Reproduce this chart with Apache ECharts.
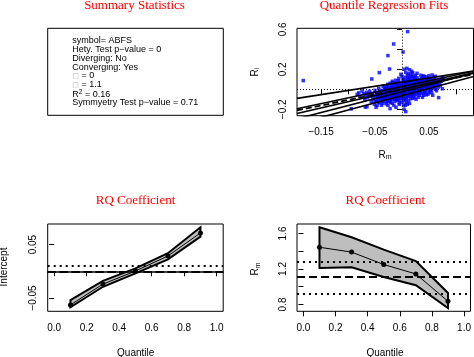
<!DOCTYPE html>
<html><head><meta charset="utf-8">
<script src="https://cdn.jsdelivr.net/npm/echarts@6/dist/echarts.min.js"></script>
<style>html,body{margin:0;padding:0;background:#fff}#c{width:474px;height:357px}</style>
</head><body><div id="c"></div>
<script>
// ---------------- data ----------------
const summaryLines = [
  '{t|symbol= ABFS}',
  '{t|Hety. Test p\u2212value = 0}',
  '{t|Diverging: No}',
  '{t|Converging: Yes}',
  '{g|\u25A1}{t| = 0}',
  '{g|\u25A1}{t| = 1.1}',
  '{t|R}{sup|2}{t| = 0.16}',
  '{t|Symmyetry Test p\u2212value = 0.71}'
];
const scatterPts = [
  [-0.183,0.087],[0.0105,0.577],[-0.0154,0.453],[-0.026,0.337],[0.002,0.373],[-0.042,0.167],[-0.023,0.203],[-0.056,0.103],[0.068,-0.083],
  [-0.094,-0.195],[0.007,-0.223],[-0.011,-0.18],[-0.022,-0.193],[-0.048,-0.18],[-0.068,-0.178],[-0.065,-0.174],[0.004,-0.2],[0.006,-0.16],
  [-0.083,-0.05],[-0.078,-0.07],[-0.08,-0.035],
  [-0.074,-0.017],[-0.071,-0.045],[-0.068,-0.062],[-0.066,-0.03],[-0.064,-0.085],[-0.062,-0.05],[-0.069,-0.105],[-0.06,-0.02],[-0.058,-0.07],[-0.057,-0.125],
  [-0.055,-0.04],[-0.054,-0.095],[-0.052,-0.06],[-0.051,-0.15],[-0.05,-0.01],[-0.049,-0.08],[-0.048,-0.115],[-0.047,-0.035],[-0.046,-0.16],[-0.045,-0.065],
  [-0.044,-0.1],[-0.043,0.01],[-0.042,-0.05],[-0.041,-0.135],[-0.04,-0.075],[-0.039,-0.02],[-0.038,-0.16],[-0.037,-0.09],[-0.036,-0.055],[-0.035,0.03],
  [-0.034,-0.115],[-0.033,-0.04],[-0.032,-0.07],[-0.031,-0.005],[-0.03,-0.1],[-0.029,-0.145],[-0.028,-0.03],[-0.027,-0.06],[-0.026,0.05],[-0.025,-0.085],
  [-0.024,-0.015],[-0.023,-0.12],[-0.022,-0.045],[-0.021,0.02],[-0.02,-0.07],[-0.019,-0.1],[-0.018,-0.025],[-0.017,0.065],[-0.016,-0.055],[-0.015,-0.16],
  [-0.014,0.0],[-0.013,-0.08],[-0.012,-0.035],[-0.011,0.04],[-0.01,-0.11],[-0.009,-0.05],[-0.008,-0.01],[-0.007,0.085],[-0.006,-0.075],[-0.005,-0.135],
  [-0.004,0.02],[-0.003,-0.04],[-0.002,0.055],[-0.001,-0.09],[0.0,-0.02],[0.001,0.035],[0.002,-0.06],[0.003,0.095],[0.004,-0.115],[0.005,0.0],
  [0.006,-0.035],[0.007,0.06],[0.008,-0.08],[0.009,0.02],[0.01,-0.15],[0.011,0.11],[0.012,-0.05],[0.013,0.04],[0.014,-0.01],[0.015,0.075],
  [0.016,-0.095],[0.017,0.005],[0.018,0.13],[0.019,-0.03],[0.02,0.05],[0.021,-0.065],[0.022,0.09],[0.023,0.015],[0.024,-0.045],[0.025,0.06],
  [0.026,-0.1],[0.027,0.03],[0.028,0.115],[0.029,-0.02],[0.03,0.07],[0.031,0.0],[0.032,-0.06],[0.033,0.045],[0.034,0.1],[0.035,-0.035],
  [0.036,0.025],[0.037,0.08],[0.038,-0.08],[0.039,0.055],[0.04,0.01],[0.041,0.13],[0.042,-0.02],[0.043,0.07],[0.044,0.035],[0.045,-0.055],
  [0.046,0.095],[0.047,0.015],[0.048,0.06],[0.05,-0.03],[0.051,0.11],[0.052,0.04],[0.054,0.0],[0.055,0.08],[0.057,-0.06],[0.058,0.05],
  [0.06,0.12],[0.061,0.02],[0.063,0.09],[0.064,-0.015],[0.066,0.06],[0.069,0.1],[0.071,0.035],[0.073,0.08],[0.075,0.005],[0.077,0.11],
  [-0.035,-0.02],[-0.03,-0.05],[-0.028,0.01],[-0.025,-0.035],[-0.022,-0.09],[-0.02,-0.01],[-0.018,-0.06],[-0.016,0.02],[-0.014,-0.04],[-0.012,-0.07],
  [-0.01,0.01],[-0.008,-0.03],[-0.006,0.04],[-0.004,-0.06],[-0.002,-0.01],[0.0,0.02],[0.002,-0.04],[0.004,0.04],[0.006,-0.01],[0.008,0.07],
  [0.01,-0.05],[0.012,0.01],[0.014,0.05],[0.016,-0.03],[0.018,0.03],[0.02,-0.01],[0.022,0.04],[0.024,0.0],[0.026,0.05],[0.028,-0.03],[0.03,0.03],
  [-0.033,-0.085],[-0.027,-0.11],[-0.021,-0.13],[-0.013,-0.12],[-0.007,-0.1],[0.0,-0.07],[0.005,-0.09],[0.011,-0.07],[0.017,-0.06],[0.023,-0.08],
  [-0.019,0.04],[-0.013,0.06],[-0.005,0.07],[0.003,0.075],[0.009,0.085],[0.015,0.1],[0.021,0.11],[0.027,0.08],
  [0.004,0.2],[0.009,0.21],[0.014,0.195],[0.018,0.18],[0.007,0.17],[0.012,0.155],[0.02,0.165],[-0.002,0.15],[0.025,0.14],[0.028,0.16],
  [0.035,0.14],[0.039,0.133],[0.045,0.125],[0.05,0.135],[0.056,0.143],[0.062,0.13],[0.071,0.093],[0.075,0.115],
  [-0.038,-0.045],[-0.036,-0.075],[-0.034,-0.03],[-0.031,-0.06],[-0.029,-0.09],[-0.026,-0.02],[-0.024,-0.065],[-0.021,-0.04],[-0.019,-0.08],[-0.017,-0.005],
  [-0.015,-0.03],[-0.013,-0.055],[-0.011,-0.09],[-0.009,0.02],[-0.007,-0.02],[-0.005,-0.045],[-0.003,0.0],[-0.001,-0.065],[0.001,0.01],[0.003,-0.025],
  [0.005,0.03],[0.007,-0.055],[0.009,-0.015],[0.011,0.035],[0.013,-0.035],[0.015,0.015],[0.017,0.045],[0.019,-0.05],[0.021,0.02],[0.023,0.06],
  [0.025,-0.015],[0.027,0.01],[0.029,0.05],[0.031,-0.04],[0.033,0.02],[0.035,0.065],[0.037,-0.005],[0.039,0.03],[0.041,0.08],[0.043,0.0],
  [0.045,0.045],[0.047,0.09],[0.049,0.02],[0.051,0.065],[0.053,-0.01],[0.056,0.1],[0.059,0.03],[0.062,0.075],[0.065,0.04],
  [-0.044,-0.062],[-0.042,-0.02],[-0.04,-0.1],[-0.039,-0.055],[-0.037,-0.01],[-0.036,-0.12],[-0.035,-0.065],[-0.033,-0.015],[-0.032,-0.095],[-0.031,-0.035],
  [-0.03,0.005],[-0.029,-0.065],[-0.028,-0.125],[-0.027,-0.045],[-0.026,-0.085],[-0.025,0.015],[-0.024,-0.04],[-0.023,-0.075],[-0.022,-0.005],[-0.021,-0.105],
  [-0.02,-0.05],[-0.019,0.01],[-0.018,-0.09],[-0.017,-0.035],[-0.016,-0.07],[-0.015,0.035],[-0.014,-0.02],[-0.013,-0.1],[-0.012,0.0],[-0.011,-0.06],
  [-0.01,-0.03],[-0.009,0.05],[-0.008,-0.085],[-0.007,0.005],[-0.006,-0.045],[-0.005,0.025],[-0.004,-0.11],[-0.003,-0.02],[-0.002,0.03],[-0.001,-0.045],
  [0.0,0.06],[0.001,-0.08],[0.002,0.015],[0.003,-0.045],[0.004,0.065],[0.005,-0.015],[0.006,0.02],[0.007,-0.1],[0.008,0.045],[0.009,-0.04],
  [0.01,0.03],[0.011,-0.02],[0.012,0.075],[0.013,0.005],[0.014,-0.07],[0.015,0.045],[0.016,0.0],[0.017,0.09],[0.018,-0.04],[0.019,0.06],
  [0.02,0.025],[0.021,-0.03],[0.022,0.07],[0.023,-0.005],[0.024,0.1],[0.025,0.035],[0.026,-0.05],[0.027,0.055],[0.028,0.005],[0.029,0.09],
  [0.03,-0.015],[0.031,0.045],[0.032,0.02],[0.033,-0.02],[0.034,0.075],[0.035,0.0],[0.036,0.05],[0.037,0.11],[0.038,0.02],[0.039,-0.04],
  [0.04,0.06],[0.041,0.035],[0.042,0.1],[0.043,-0.03],[0.044,0.07],[0.045,0.015],[0.046,0.04],[0.048,0.085],[0.049,-0.005],[0.05,0.055],
  [0.052,0.1],[0.053,0.025],[0.055,0.06],[0.057,0.015],[0.058,0.09],[0.06,0.05],[0.062,0.0],[0.064,0.07],[0.067,0.02],[0.07,0.06],
  [-0.012,0.09],[-0.006,0.11],[0.0,0.13],[0.002,0.1],[0.006,0.12],[0.01,0.14],[0.013,0.12],[0.016,0.15],[0.02,0.13],[0.024,0.12],
  [-0.018,0.08],[-0.022,0.06],[-0.028,0.035],[-0.032,0.02],
  [-0.005,-0.15],[0.0,-0.13],[0.003,-0.16],[0.008,-0.13],[0.012,-0.11],[0.014,-0.14],[-0.018,-0.14],[-0.026,-0.16],[-0.035,-0.14],[-0.043,-0.13],
  [-0.05,-0.12],[0.02,-0.09],[0.03,-0.08],[0.04,-0.06],[0.048,-0.05],[0.055,-0.035]
];
const quantiles = [0.1, 0.3, 0.5, 0.7, 0.9];
const interceptEst = [-0.063, -0.024, 0.0006, 0.0287, 0.072];
const interceptLo  = [-0.0675, -0.029, -0.0038, 0.0225, 0.065];
const interceptHi  = [-0.054, -0.018, 0.0056, 0.034, 0.0825];
const slopeEst = [1.445, 1.39, 1.25, 1.144, 0.836];
const slopeLo  = [1.211, 1.219, 1.11, 1.017, 0.76];
const slopeHi  = [1.67, 1.557, 1.418, 1.29, 0.93];
const olsIntercept = [0.004, -0.0008, 0.0088];  // estimate, lower, upper
const olsSlope = [1.107, 0.92, 1.28];          // estimate, lower, upper
const rmTicks = [-0.15, -0.1, -0.05, 0, 0.05, 0.1];
const rmLabels = [-0.15, -0.05, 0.05];
const riTicks = [-0.2, 0, 0.2, 0.4, 0.6];
const riLabels = [-0.2, 0.2, 0.6];
const qTicks = [0, 0.2, 0.4, 0.6, 0.8, 1.0];
const intTicks = [-0.05, 0, 0.05];
const intLabels = [-0.05, 0.05];
const slTicks = [0.8, 1.0, 1.2, 1.4, 1.6];
const slLabels = [0.8, 1.2, 1.6];

// ---------------- layout ----------------
const SANS = 'Liberation Sans, Arial, sans-serif';
const SERIF = 'Liberation Serif, Times New Roman, serif';
const RM_MIN = -0.1946, RM_MAX = 0.1326;
const RI_MIN = -0.264, RI_MAX = 0.61;
const Q_MIN = -0.04, Q_MAX = 1.04;
const fmt = d => v => v.toFixed(d).replace('-', '\u2212');

function valAxis(gi, min, max, ticks, labels, dec, isY) {
  return {
    type: 'value', gridIndex: gi, min: min, max: max,
    axisLine: {show: false},
    splitLine: {show: false},
    axisTick: {show: true, length: 5, customValues: ticks, lineStyle: {color: '#000', width: 1}},
    axisLabel: {show: true, customValues: labels, formatter: fmt(dec), color: '#000',
      fontFamily: SANS, fontSize: 10, margin: isY ? 9 : 12, rotate: isY ? 90 : 0}
  };
}

const grids = [
  {left: 297, top: 28.3, width: 176.5, height: 87.4},
  {left: 47.7, top: 224, width: 175.5, height: 87.3},
  {left: 297, top: 224, width: 176, height: 87.3}
].map(g => Object.assign(g, {show: true, borderColor: '#000', borderWidth: 1, backgroundColor: 'transparent'}));

const regLines = quantiles.map((q, i) => ({
  type: 'line', xAxisIndex: 0, yAxisIndex: 0, clip: true, z: 5, silent: true,
  symbol: 'none', lineStyle: {color: '#000', width: 1.6},
  data: [[RM_MIN, interceptEst[i] + slopeEst[i] * RM_MIN], [RM_MAX, interceptEst[i] + slopeEst[i] * RM_MAX]]
}));
const olsLine = {
  type: 'line', xAxisIndex: 0, yAxisIndex: 0, clip: true, z: 5, silent: true,
  symbol: 'none', lineStyle: {color: '#000', width: 1.8, type: [6, 3]},
  data: [[RM_MIN, olsIntercept[0] + olsSlope[0] * RM_MIN], [RM_MAX, olsIntercept[0] + olsSlope[0] * RM_MAX]]
};

function band(ai, lo, hi) {
  return {
    type: 'custom', xAxisIndex: ai, yAxisIndex: ai, z: 2, silent: true,
    data: [[quantiles[0], hi[0]]],
    renderItem: function (params, api) {
      const pts = [];
      for (let i = 0; i < quantiles.length; i++) pts.push(api.coord([quantiles[i], hi[i]]));
      for (let i = quantiles.length - 1; i >= 0; i--) pts.push(api.coord([quantiles[i], lo[i]]));
      return {type: 'polygon', shape: {points: pts}, style: {fill: '#bebebe', stroke: '#000', lineWidth: 2}};
    }
  };
}
function estLine(ai, est, ols, zeroLine) {
  const dot = {type: [2, 4], width: 2, color: '#000'};
  const dash = {type: [8, 4], width: 2, color: '#000'};
  const ml = [
    {yAxis: ols[0], lineStyle: dash},
    {yAxis: ols[1], lineStyle: dot},
    {yAxis: ols[2], lineStyle: dot}
  ];
  if (zeroLine) ml.unshift({yAxis: 0, lineStyle: {type: 'solid', width: 1.6, color: '#000'}});
  return {
    type: 'line', xAxisIndex: ai, yAxisIndex: ai, z: 4, silent: true,
    symbol: 'circle', symbolSize: 5, itemStyle: {color: '#000'},
    lineStyle: {color: '#000', width: 1},
    data: quantiles.map((q, i) => [q, est[i]]),
    markLine: {silent: true, symbol: 'none', label: {show: false}, animation: false, data: ml}
  };
}

const graphics = [
  {type: 'rect', shape: {x: 47.7, y: 28.3, width: 175.6, height: 87}, style: {fill: 'none', stroke: '#000', lineWidth: 1}},
];
const lineY = [40.5, 49.3, 58.2, 67.1, 76, 84.8, 94.2, 102.6];
summaryLines.forEach((s, i) => {
  graphics.push({type: 'text', x: 72.3, y: lineY[i], style: {
    text: s, textAlign: 'left', textVerticalAlign: 'middle',
    rich: {
      t: {fontFamily: SANS, fontSize: 9, fill: '#000', lineHeight: 10},
      g: {fontFamily: 'DejaVu Sans', fontSize: 7, fill: '#aaa', lineHeight: 10},
      sup: {fontFamily: SANS, fontSize: 6.5, fill: '#000', verticalAlign: 'top', lineHeight: 10}
    }}});
});
const titles = [
  ['Summary Statistics', 134.5, 5.5],
  ['Quantile Regression Fits', 384, 5.5],
  ['RQ Coefficient', 135.5, 201],
  ['RQ Coefficient', 385.3, 201]
];
titles.forEach(t => graphics.push({type: 'text', x: t[1], y: t[2], style: {
  text: t[0], textAlign: 'center', textVerticalAlign: 'middle', fill: '#ff0000',
  fontFamily: SERIF, fontSize: 13}}));
const subRich = {
  a: {fontFamily: SANS, fontSize: 10, fill: '#000', lineHeight: 12},
  b: {fontFamily: SANS, fontSize: 7, fill: '#000', verticalAlign: 'bottom', lineHeight: 12}
};
const axisTitles = [
  ['{a|R}{b|i}', 255, 72, true],
  ['{a|R}{b|m}', 385, 155, false],
  ['{a|Intercept}', 4.5, 267, true],
  ['{a|Quantile}', 135.7, 353.5, false],
  ['{a|R}{b|m}', 255.5, 269, true],
  ['{a|Quantile}', 385, 353.5, false]
];
axisTitles.forEach(t => graphics.push({type: 'text', x: t[1], y: t[2], rotation: t[3] ? Math.PI / 2 : 0,
  style: {text: t[0], textAlign: 'center', textVerticalAlign: 'middle', rich: subRich}}));

const chart = echarts.init(document.getElementById('c'), null, {renderer: 'canvas'});
chart.setOption({
  animation: false,
  backgroundColor: '#fff',
  grid: grids,
  xAxis: [
    valAxis(0, RM_MIN, RM_MAX, rmTicks, rmLabels, 2, false),
    valAxis(1, Q_MIN, Q_MAX, qTicks, qTicks, 1, false),
    valAxis(2, Q_MIN, Q_MAX, qTicks, qTicks, 1, false)
  ],
  yAxis: [
    valAxis(0, RI_MIN, RI_MAX, riTicks, riLabels, 1, true),
    valAxis(1, -0.075, 0.0887, intTicks, intLabels, 2, true),
    valAxis(2, 0.723, 1.707, slTicks, slLabels, 1, true)
  ],
  series: [
    {type: 'scatter', xAxisIndex: 0, yAxisIndex: 0, symbol: 'rect', symbolSize: 3.5, z: 3, silent: true,
      itemStyle: {color: '#0000ff'}, data: scatterPts,
      markLine: {silent: true, symbol: 'none', label: {show: false}, animation: false,
        lineStyle: {type: [1, 2], color: '#000', width: 1},
        data: [{yAxis: 0}, {xAxis: 0}]}},
    ...regLines, olsLine,
    band(1, interceptLo, interceptHi), estLine(1, interceptEst, olsIntercept, true),
    band(2, slopeLo, slopeHi), estLine(2, slopeEst, olsSlope, false)
  ],
  graphic: graphics
});
</script></body></html>
